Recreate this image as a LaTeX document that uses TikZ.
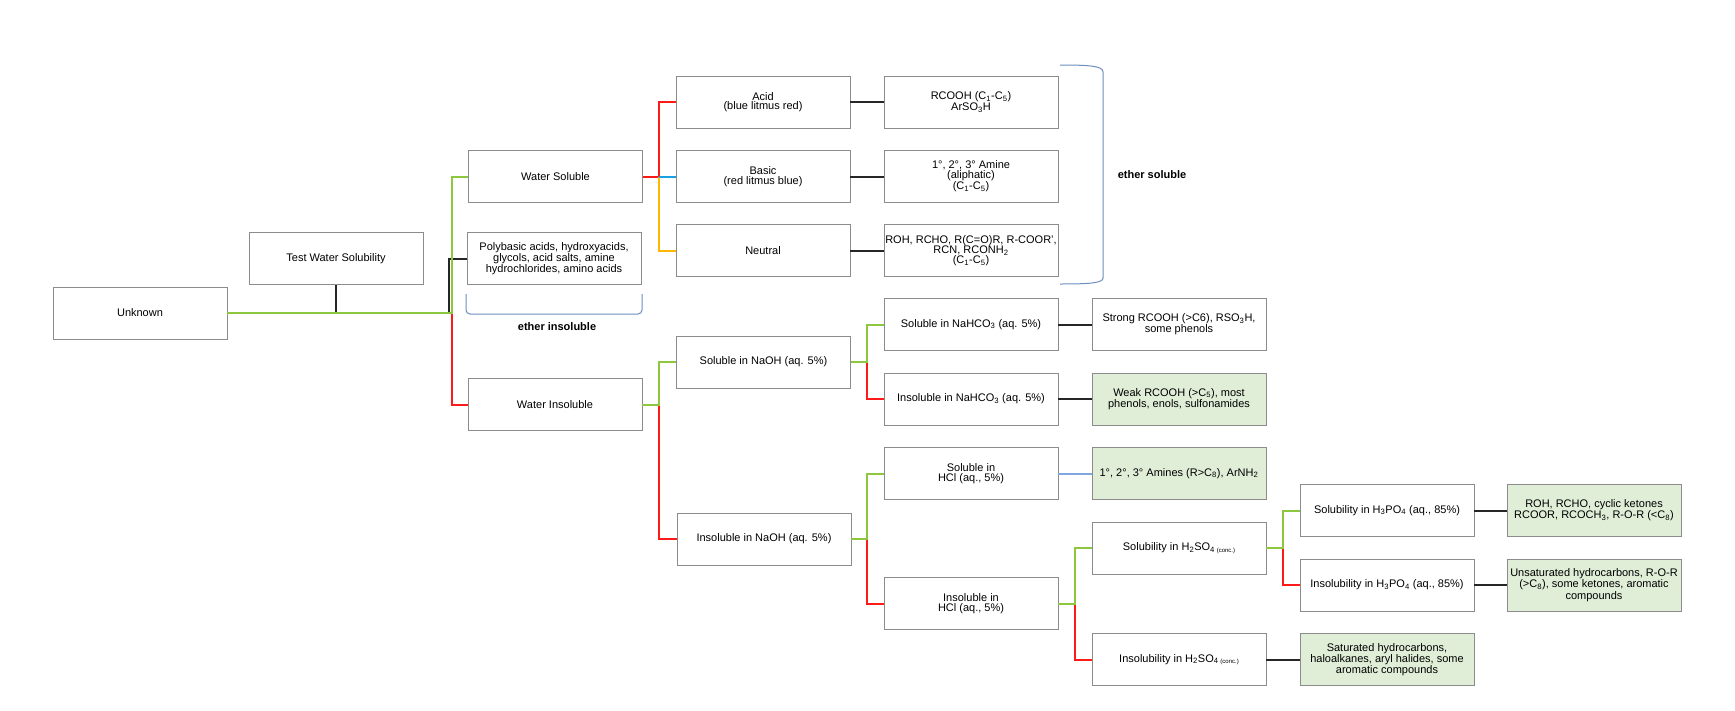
\documentclass[tikz,border=0pt]{standalone}
\usepackage{fontspec}
\setmainfont{Liberation Sans}
\definecolor{lgreen}{HTML}{8DC63F}
\definecolor{lred}{HTML}{FF1A1A}
\definecolor{lorange}{HTML}{FFB800}
\definecolor{lcyan}{HTML}{1BA1E2}
\definecolor{lblue}{HTML}{7EA6E0}
\definecolor{bracec}{HTML}{6C8EBF}
\definecolor{boxc}{HTML}{8C8C8C}
\definecolor{gfill}{HTML}{E0EED8}
\begin{document}
\begin{tikzpicture}[x=1pt,y=-1pt,
  box/.style={draw=boxc,line width=0.9pt,fill=white,minimum width=174pt,minimum height=52pt,inner sep=1pt,align=center,font=\fontsize{11}{9.7}\selectfont},
  gbox/.style={box,fill=gfill},
  gline/.style={draw=lgreen,line width=2pt},
  rline/.style={draw=lred,line width=2pt},
  bline/.style={draw=black!85,line width=2pt},
  oline/.style={draw=lorange,line width=2pt},
  cline/.style={draw=lcyan,line width=2pt},
  blline/.style={draw=lblue,line width=2pt},
  bracket/.style={draw=bracec,line width=1pt},
  lab/.style={font=\fontsize{11}{12}\selectfont\bfseries}]
\useasboundingbox (0,0) rectangle (1735,710);
\fill[white] (0,0) rectangle (1735,710);
% nodes
\node[box] (unk) at (140,313) {Unknown};
\node[box] (test) at (336,258.5) {Test Water Solubility};
\node[box] (ws) at (555.5,176.5) {Water Soluble};
\node[box] (poly) at (554,258.5) {Polybasic acids, hydroxyacids,\\glycols, acid salts, amine\\hydrochlorides, amino acids};
\node[box] (wi) at (555,404.5) {Water Insoluble};
\node[box] (acid) at (763,102) {Acid\\(blue litmus red)};
\node[box] (basic) at (763,176.5) {Basic\\(red litmus blue)};
\node[box] (neutral) at (763,250.5) {Neutral};
\node[box] (rcooh) at (971,102) {RCOOH (C\textsubscript{1}-C\textsubscript{5})\\ArSO\textsubscript{3}H};
\node[box] (amine) at (971,176.5) {1°, 2°, 3° Amine\\(aliphatic)\\(C\textsubscript{1}-C\textsubscript{5})};
\node[box] (roh) at (971,250.5) {ROH, RCHO, R(C=O)R, R-COOR',\\RCN, RCONH\textsubscript{2}\\(C\textsubscript{1}-C\textsubscript{5})};
\node[box] (snaoh) at (763.5,362) {Soluble in NaOH (aq. 5\%)};
\node[box] (inaoh) at (764,539) {Insoluble in NaOH (aq. 5\%)};
\node[box] (snahco) at (971,324.5) {Soluble in NaHCO\textsubscript{3} (aq. 5\%)};
\node[box] (inahco) at (971,399) {Insoluble in NaHCO\textsubscript{3} (aq. 5\%)};
\node[box] (strong) at (1179,324.5) {Strong RCOOH (>C6), RSO\textsubscript{3}H,\\some phenols};
\node[gbox] (weak) at (1179,399) {Weak RCOOH (>C\textsubscript{5}), most\\phenols, enols, sulfonamides};
\node[box] (shcl) at (971,473.5) {Soluble in\\HCl (aq., 5\%)};
\node[box] (ihcl) at (971,603.5) {Insoluble in\\HCl (aq., 5\%)};
\node[gbox] (amines) at (1179,473.5) {1°, 2°, 3° Amines (R>C\textsubscript{8}), ArNH\textsubscript{2}};
\node[box] (sso) at (1179,548) {Solubility in H\textsubscript{2}SO\textsubscript{4}\,{\fontsize{6}{7}\selectfont\raisebox{-1.5pt}{(conc.)}}};
\node[box] (iso) at (1179,659.5) {Insolubility in H\textsubscript{2}SO\textsubscript{4}\,{\fontsize{6}{7}\selectfont\raisebox{-1.5pt}{(conc.)}}};
\node[box] (spo) at (1387,510.5) {Solubility in H\textsubscript{3}PO\textsubscript{4} (aq., 85\%)};
\node[box] (ipo) at (1387,585) {Insolubility in H\textsubscript{3}PO\textsubscript{4} (aq., 85\%)};
\node[gbox] (rohc) at (1594,510.5) {ROH, RCHO, cyclic ketones\\RCOOR, RCOCH\textsubscript{3}, R-O-R (<C\textsubscript{8})};
\node[gbox] (unsat) at (1594,585) {Unsaturated hydrocarbons, R-O-R\\(>C\textsubscript{8}), some ketones, aromatic\\compounds};
\node[gbox] (sat) at (1387,659.5) {Saturated hydrocarbons,\\haloalkanes, aryl halides, some\\aromatic compounds};
% junction coordinates
\coordinate (j1) at (451.5,313);
\coordinate (j1b) at (448.5,313);
\coordinate (j2) at (659,176.5);
\coordinate (j3) at (659,404.5);
\coordinate (j4) at (867,362);
\coordinate (j5) at (867,539);
\coordinate (j6) at (1075,603.5);
\coordinate (j7) at (1283,548);
% connectors
\draw[bline] (test.south) -- (test.south |- unk.east);
\draw[bline] (j1b) |- (poly.west);
\draw[rline] (j1) |- (wi.west);
\draw[gline] (unk.east) -- (j1) |- (ws.west);
\draw[rline] (ws.east) -- (j2) |- (acid.west);
\draw[oline] (j2) |- (neutral.west);
\draw[cline] (j2) -- (basic.west);
\draw[bline] (acid) -- (rcooh);
\draw[bline] (basic) -- (amine);
\draw[bline] (neutral) -- (roh);
\draw[rline] (wi.east) -- (j3) |- (inaoh.west);
\draw[gline] (wi.east) -- (j3) |- (snaoh.west);
\draw[rline] (snaoh.east) -- (j4) |- (inahco.west);
\draw[gline] (snaoh.east) -- (j4) |- (snahco.west);
\draw[bline] (snahco) -- (strong);
\draw[bline] (inahco) -- (weak);
\draw[rline] (inaoh.east) -- (j5) |- (ihcl.west);
\draw[gline] (inaoh.east) -- (j5) |- (shcl.west);
\draw[blline] (shcl) -- (amines);
\draw[rline] (ihcl.east) -- (j6) |- (iso.west);
\draw[gline] (ihcl.east) -- (j6) |- (sso.west);
\draw[rline] (sso.east) -- (j7) |- (ipo.west);
\draw[gline] (sso.east) -- (j7) |- (spo.west);
\draw[bline] (spo) -- (rohc);
\draw[bline] (ipo) -- (unsat);
\draw[bline] (iso) -- (sat);
% brackets
\draw[bracket] (1060,65) .. controls (1090,65) and (1103,66) .. (1103,72) -- (1103,278) .. controls (1103,283) and (1090,284) .. (1060,284);
\draw[bracket,rounded corners=4pt] (466,294) -- (466,314) -- (642,314) -- (642,294);
\node[lab] (esol) at (1152,175) {ether soluble};
\node[lab] (einsol) at (557,327) {ether insoluble};
\end{tikzpicture}
\end{document}
